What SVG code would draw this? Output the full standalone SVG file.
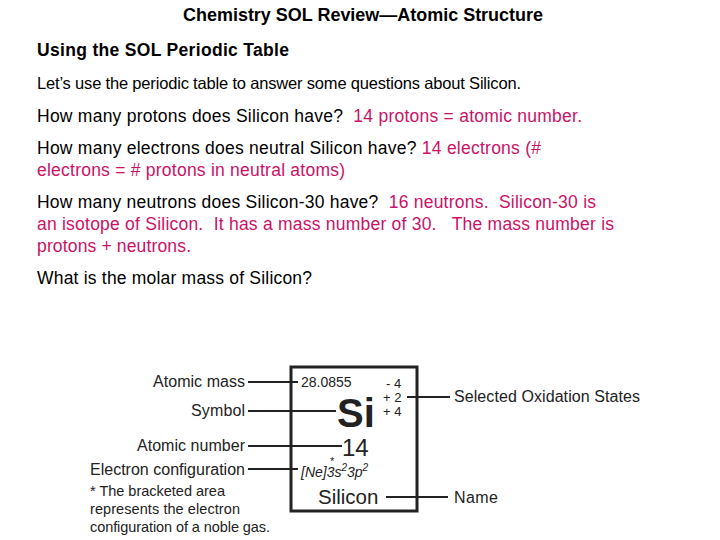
<svg xmlns="http://www.w3.org/2000/svg" width="720" height="540" viewBox="0 0 720 540">
<style>
.t{font-family:"Liberation Sans",Arial,sans-serif;font-size:17.5px;fill:#000;white-space:pre}
.b{font-weight:bold}
.m{fill:#cc1166}
.f{font-family:"Liberation Sans",Arial,sans-serif;fill:#222}
.l{stroke:#222;stroke-width:2;fill:none}
</style>
<rect width="720" height="540" fill="#fff"/>
<text class="t b" x="183" y="21" textLength="360" lengthAdjust="spacingAndGlyphs">Chemistry SOL Review—Atomic Structure</text>
<text class="t b" x="37" y="56" textLength="252">Using the SOL Periodic Table</text>
<text class="t" x="37" y="89" textLength="484" style="font-size:16.5px">Let’s use the periodic table to answer some questions about Silicon.</text>
<text class="t" x="37" y="122" textLength="545">How many protons does Silicon have?  <tspan class="m">14 protons = atomic number.</tspan></text>
<text class="t" x="37" y="154" textLength="504">How many electrons does neutral Silicon have? <tspan class="m">14 electrons (#</tspan></text>
<text class="t m" x="37" y="176" textLength="308">electrons = # protons in neutral atoms)</text>
<text class="t" x="37" y="208" textLength="559">How many neutrons does Silicon-30 have?  <tspan class="m">16 neutrons.  Silicon-30 is</tspan></text>
<text class="t m" x="37" y="230" textLength="577">an isotope of Silicon.  It has a mass number of 30.   The mass number is</text>
<text class="t m" x="37" y="252" textLength="154">protons + neutrons.</text>
<text class="t" x="37" y="284" textLength="275">What is the molar mass of Silicon?</text>
<g id="element">
<rect x="291" y="367" width="126" height="144" fill="none" stroke="#222" stroke-width="3"/>
<text class="f" x="301" y="387" style="font-size:14px">28.0855</text>
<text class="f" x="386" y="388" style="font-size:13px">- 4</text>
<text class="f" x="383" y="402" style="font-size:13px">+ 2</text>
<text class="f" x="383" y="416" style="font-size:13px">+ 4</text>
<text class="f" x="337" y="427" style="font-size:40px;font-weight:bold">Si</text>
<text class="f" x="342" y="456" style="font-size:24px">14</text>
<text class="f" x="301" y="477" style="font-size:14px;font-style:italic">[Ne]3s<tspan style="font-size:10px" dy="-6">2</tspan><tspan dy="6">3p</tspan><tspan style="font-size:10px" dy="-6">2</tspan></text>
<text class="f" x="330" y="465" style="font-size:11px">*</text>
<text class="f" x="318" y="504" style="font-size:20.5px">Silicon</text>
</g>
<g id="labels">
<text class="f" x="153" y="387" textLength="92" style="font-size:16px">Atomic mass</text>
<text class="f" x="191" y="416" textLength="54" style="font-size:16px">Symbol</text>
<text class="f" x="137" y="451" textLength="108" style="font-size:16px">Atomic number</text>
<text class="f" x="90" y="475" textLength="155" style="font-size:16px">Electron configuration</text>
<text class="f" x="90" y="496" textLength="135" style="font-size:14.5px">* The bracketed area</text>
<text class="f" x="90" y="514" textLength="150" style="font-size:14.5px">represents the electron</text>
<text class="f" x="90" y="532" textLength="180" style="font-size:14.5px">configuration of a noble gas.</text>
<text class="f" x="454" y="402" textLength="186" style="font-size:16px">Selected Oxidation States</text>
<text class="f" x="454" y="503" textLength="44" style="font-size:16px">Name</text>
</g>
<g id="connectors">
<path class="l" d="M248 382H298M248 411H336M248 446H342M248 469H298M407 397H450M386 497H448"/>
</g>
</svg>
